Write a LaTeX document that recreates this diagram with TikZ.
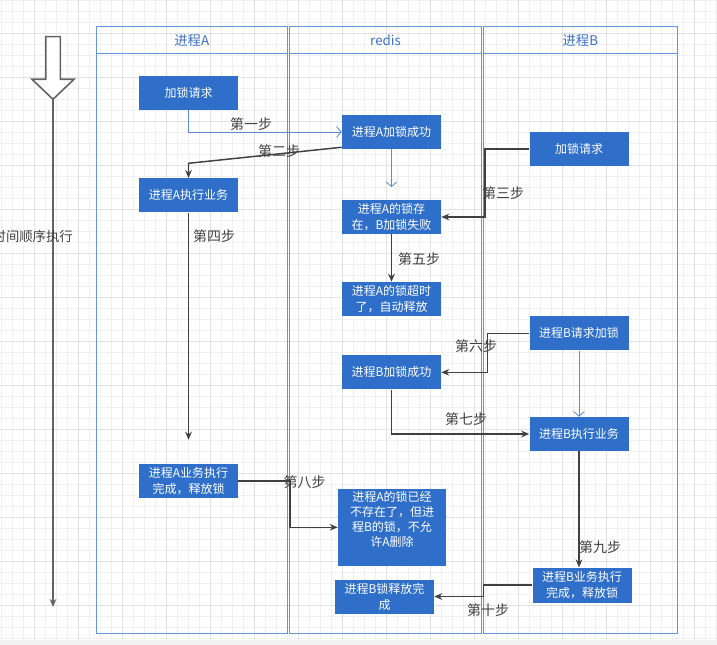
\documentclass[tikz,border=0pt]{standalone}
\usepackage{fontspec}
\setmainfont{Noto Sans CJK SC}
\usetikzlibrary{arrows.meta,calc,positioning}
\definecolor{boxblue}{RGB}{47,111,201}
\definecolor{lanecol}{RGB}{100,150,222}
\definecolor{headcol}{RGB}{62,112,200}
\definecolor{linkcol}{RGB}{92,138,214}
\definecolor{darkcol}{RGB}{64,64,64}
\definecolor{timecol}{RGB}{100,100,100}
\definecolor{gridmin}{RGB}{241,241,241}
\definecolor{gridmaj}{RGB}{226,226,226}
\tikzset{
	proc/.style={
		rectangle,
		fill=boxblue,
		text=white,
		minimum width=74.25pt,
		minimum height=25.5pt,
		inner sep=0pt,
		align=center,
		font=\fontsize{9}{12}\selectfont},
	lane/.style={
		draw=lanecol,
		line width=0.75pt},
	lanehead/.style={
		text=headcol,
		font=\fontsize{10}{12}\selectfont},
	steplbl/.style={
		text=darkcol,
		inner sep=0pt,
		font=\fontsize{10.5}{12}\selectfont},
	steparr/.style={
		-{Stealth[length=6pt,width=5pt]},
		draw=darkcol,
		line width=1.1pt},
	thinarr/.style={
		-{Straight Barb[length=3.5pt,width=8pt]},
		draw=linkcol,
		line width=0.6pt}
}
\begin{document}
\begin{tikzpicture}[x=0.75pt,y=0.75pt,yscale=-1,xscale=1]
\useasboundingbox (0,0) rectangle (717,645);
% background grid
\foreach \i in {0,...,65}
	\draw[gridmin, line width=0.6pt] (1.3+11*\i,0) -- (1.3+11*\i,645);
\foreach \j in {0,...,58}
	\draw[gridmin, line width=0.6pt] (0,0.3+11*\j) -- (717,0.3+11*\j);
\foreach \i in {0,...,16}
	\draw[gridmaj, line width=0.75pt] (34.3+44*\i,0) -- (34.3+44*\i,645);
\foreach \j in {0,...,14}
	\draw[gridmaj, line width=0.75pt] (0,33.3+44*\j) -- (717,33.3+44*\j);
\fill[gridmin] (0,640) rectangle (717,645);

% lanes
\draw[lane] (96.7,26.7) rectangle (287,633);
\draw[lane] (96.7,54) -- (287,54);
\draw[lane] (289.3,26.7) rectangle (481.7,633);
\draw[lane] (289.3,54) -- (481.7,54);
\draw[lane] (483.3,26.7) rectangle (677.3,633);
\draw[lane] (483.3,54) -- (677.3,54);
\node[lanehead] (headA) at (191.8,40.3) {进程A};
\node[lanehead] (headR) at (385.5,40.3) {redis};
\node[lanehead] (headB) at (580.3,40.3) {进程B};

% time arrow
\draw[timecol, line width=1.2pt, fill=white] (45.7,36.7) -- (60.3,36.7) -- (60.3,79.3) -- (74,79.3)
	-- (53,99.3) -- (32,79.3) -- (45.7,79.3) -- cycle;
\coordinate (ttop) at (53,99.3);
\coordinate (tend) at (53,607);
\draw[timecol, line width=1.5pt, -{Stealth[length=6pt,width=5pt]}] (ttop) -- (tend);
\node[steplbl, anchor=east, font=\fontsize{10}{12}\selectfont] (tlbl) at (73,236) {时间顺序执行};

% process boxes
\node[proc] (reqA) at (188.5,93) {加锁请求};
\node[proc] (runA) at (188.5,195.3) {进程A执行业务};
\node[proc] (okA) at (391.5,132) {进程A加锁成功};
\node[proc] (reqB) at (579,149) {加锁请求};
\node[proc] (fail) at (391.5,217) {进程A的锁存\\在，B加锁失败};
\node[proc] (timeout) at (391.5,299) {进程A的锁超时\\了，自动释放};
\node[proc] (reqB2) at (579,333.3) {进程B请求加锁};
\node[proc] (okB) at (391.5,372.3) {进程B加锁成功};
\node[proc] (runB) at (579,434) {进程B执行业务};
\node[proc] (doneA) at (188.5,481) {进程A业务执行\\完成，释放锁};
\node[proc, minimum width=81pt, minimum height=57.5pt] (deny) at (392,527.3)
	{\parbox[c][57.5pt][t]{81pt}{\fontsize{9}{11.25}\selectfont\centering\vspace{1.5pt}进程A的锁已经\\不存在了，但进\\程B的锁，不允\\许A删除}};
\node[proc] (relB) at (384.5,596.5) {进程B锁释放完\\成};
\node[proc, minimum height=26.25pt] (doneB) at (582,585.2) {进程B业务执行\\完成，释放锁};

% joints
\coordinate (bend2) at (188.5,163.3);
\coordinate (j3) at (485,183);
\coordinate (j6) at (487.3,350);
\coordinate (j8) at (290,500);
\coordinate (j10) at (483.3,590);

% connectors
\draw[thinarr] (reqA.south) |- (okA.west);
\draw[thinarr, shorten >=9.5pt] (okA.south) -- (fail.north);
\draw[thinarr] (reqB2.south) -- (runB.north);
\draw[steparr] ([yshift=-1.5pt]okA.south west) -- (bend2) -- (runA.north);
\draw[steparr] (reqB.west) -| (j3) |- (fail.east);
\draw[steparr, shorten >=18pt] (runA.south) -- (doneA.north);
\draw[steparr] (fail.south) -- (timeout.north);
\draw[steparr] (reqB2.west) -| (j6) |- (okB.east);
\draw[steparr] (okB.south) |- (runB.west);
\draw[steparr] (doneA.east) -| (j8) |- (deny.west);
\draw[steparr] (runB.south) -- (runB.south |- doneB.north);
\draw[steparr] (doneB.west) -| (j10) |- (relB.east);

% step labels
\node[steplbl] (s1) at (251,124) {第一步};
\node[steplbl] (s2) at (279,151.5) {第二步};
\node[steplbl] (s3) at (503,193) {第三步};
\node[steplbl] (s4) at (214,236) {第四步};
\node[steplbl] (s5) at (419,259.3) {第五步};
\node[steplbl] (s6) at (476,346.5) {第六步};
\node[steplbl] (s7) at (466,419) {第七步};
\node[steplbl] (s8) at (304.5,482) {第八步};
\node[steplbl] (s9) at (600,547.3) {第九步};
\node[steplbl] (s10) at (488,610) {第十步};
\end{tikzpicture}
\end{document}
